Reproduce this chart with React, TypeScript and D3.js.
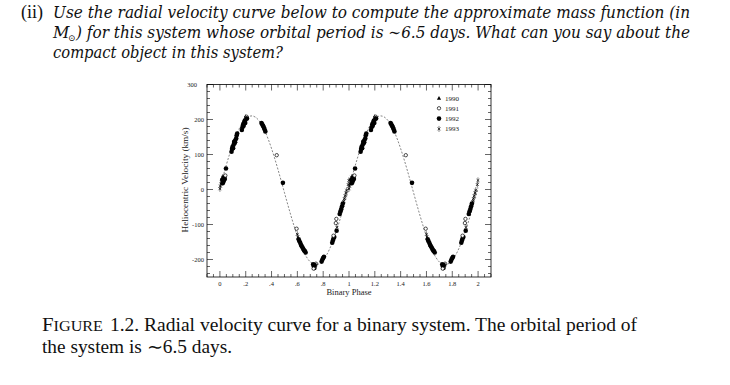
import React from "react";
import * as d3 from "d3";

// phase-folded radial velocities (phase 0-1), each is plotted again at phase+1
const obsPhase = [
  0.0, 0.004, 0.008, 0.012, 0.018, 0.022, 0.026, 0.03, 0.034, 0.038, 0.042, 0.047, 0.02,
  0.09, 0.094, 0.098, 0.102, 0.106, 0.11, 0.114, 0.118, 0.122, 0.126, 0.13, 0.134,
  0.17, 0.175, 0.18, 0.184, 0.188, 0.192, 0.196, 0.2, 0.203, 0.206, 0.21, 0.198,
  0.322, 0.328, 0.334, 0.34, 0.346, 0.352,
  0.44, 0.488,
  0.6, 0.604, 0.61, 0.616, 0.622, 0.628, 0.634, 0.64, 0.646, 0.652, 0.658, 0.664, 0.594,
  0.722, 0.728, 0.732, 0.738, 0.744, 0.734, 0.726,
  0.788, 0.794, 0.8, 0.806,
  0.87, 0.875, 0.88, 0.886, 0.88, 0.898, 0.902, 0.906, 0.904,
  0.928, 0.934, 0.94, 0.946, 0.952, 0.958, 0.964, 0.97, 0.976, 0.982, 0.994, 0.999,
];
const obsVel = [
  2, 10, 16, 22, 28, 18, 32, 24, 36, 30, 40, 60, 35,
  108, 116, 122, 118, 128, 136, 132, 140, 138, 146, 155, 160,
  170, 178, 186, 182, 192, 196, 190, 200, 204, 208, 203, 206,
  190, 186, 182, 178, 172, 166,
  98, 19,
  -128, -136, -142, -148, -152, -158, -162, -166, -170, -174, -176, -180, -112,
  -214, -220, -224, -218, -212, -216, -226,
  -206, -200, -196, -192,
  -152, -146, -140, -136, -132, -96, -84, -108, -118,
  -70, -62, -56, -48, -40, -34, -26, -18, -10, -2, 14, 26,
];
const obsYear = [
  1993, 1993, 1993, 1993, 1992, 1992, 1992, 1992, 1992, 1992, 1991, 1992, 1993,
  1992, 1992, 1992, 1992, 1992, 1992, 1992, 1992, 1990, 1992, 1992, 1992,
  1992, 1992, 1992, 1992, 1992, 1992, 1992, 1992, 1991, 1991, 1992, 1993,
  1992, 1992, 1992, 1992, 1992, 1992,
  1991, 1992,
  1993, 1993, 1992, 1992, 1992, 1992, 1992, 1992, 1992, 1992, 1992, 1992, 1991,
  1992, 1992, 1992, 1991, 1991, 1992, 1991,
  1992, 1992, 1992, 1992,
  1992, 1992, 1992, 1992, 1991, 1991, 1991, 1993, 1992,
  1992, 1992, 1992, 1992, 1992, 1993, 1993, 1993, 1993, 1993, 1993, 1993,
];

// fitted orbit, one cycle
const curvePhase = [0, 0.1, 0.2, 0.3, 0.4, 0.5, 0.6, 0.7, 0.8, 0.9, 1.0];
const curveVel = [5, 129, 202, 198, 117, -9, -133, -207, -202, -121, 5];

const legendYears = [1990, 1991, 1992, 1993];
const xMajor = [0, 0.2, 0.4, 0.6, 0.8, 1, 1.2, 1.4, 1.6, 1.8, 2];
const yMajor = [-200, -100, 0, 100, 200, 300];

const question = [
  "Use the radial velocity curve below to compute the approximate mass function (in",
  ") for this system whose orbital period is \u223c6.5 days. What can you say about the",
  "compact object in this system?",
];
const caption = [
  "1.2. Radial velocity curve for a binary system. The orbital period of",
  "the system is \u223c6.5 days.",
];

const L = 207, R = 491, T = 84.5, B = 277;
const x = d3.scaleLinear().domain([-0.1, 2.1]).range([L, R]);
const y = d3.scaleLinear().domain([-250, 300]).range([B, T]);

const fmtX = (v: number) => {
  if (Number.isInteger(v)) return String(v);
  if (v < 1) return "." + Math.round(v * 10);
  return v.toFixed(1);
};

const Marker = ({ cx, cy, year }: { cx: number; cy: number; year: number }) => {
  if (year === 1990) {
    const s = 2.1;
    return <path d={`M${cx},${cy - s}L${cx + s},${cy + s * 0.8}L${cx - s},${cy + s * 0.8}Z`} fill="#000" />;
  }
  if (year === 1991) return <circle cx={cx} cy={cy} r={1.7} fill="#fff" stroke="#000" strokeWidth={0.7} />;
  if (year === 1992) return <circle cx={cx} cy={cy} r={2.3} fill="#000" />;
  const s = 1.4;
  return (
    <g stroke="#000" strokeWidth={0.7}>
      <path d={`M${cx - s},${cy - s}L${cx + s},${cy + s}M${cx - s},${cy + s}L${cx + s},${cy - s}`} />
      <path d={`M${cx},${cy - 3}V${cy + 3}`} strokeWidth={0.5} />
    </g>
  );
};

export default function App() {
  const points = obsPhase.flatMap((p, i) => [
    { p, v: obsVel[i], yr: obsYear[i] },
    { p: p + 1, v: obsVel[i], yr: obsYear[i] },
  ]);
  const curvePts: [number, number][] = curvePhase
    .map((p, i) => [p, curveVel[i]] as [number, number])
    .concat(curvePhase.slice(1).map((p, i) => [p + 1, curveVel[i + 1]] as [number, number]));
  const line = d3
    .line<[number, number]>()
    .x((d) => x(d[0]))
    .y((d) => y(d[1]))
    .curve(d3.curveNatural);

  const xMinor = d3.range(-0.1, 2.1001, 0.05).map((v) => +v.toFixed(2));
  const yMinor = d3.range(-240, 301, 20);
  const serif = "Liberation Serif";
  const italic = "DejaVu Serif";

  return (
    <svg width={730} height={385} style={{ position: "absolute", left: 0, top: 0, background: "#fff" }}>
      {/* question text */}
      <g fontSize={16} fill="#111">
        <text x={21} y={18} fontFamily={serif} fontSize={18}>(ii)</text>
        <g fontFamily={italic} fontStyle="italic">
          <text x={53} y={18} textLength={637} lengthAdjust="spacingAndGlyphs">{question[0]}</text>
          <text x={53} y={38}>M</text>
          <text x={68} y={41} fontSize={9} fontStyle="normal">{"\u2299"}</text>
          <text x={76} y={38} textLength={614} lengthAdjust="spacingAndGlyphs">{question[1]}</text>
          <text x={53} y={58} textLength={230} lengthAdjust="spacingAndGlyphs">{question[2]}</text>
        </g>
      </g>

      {/* frame and ticks */}
      <rect x={L} y={T} width={R - L} height={B - T} fill="none" stroke="#000" strokeWidth={0.8} />
      <g stroke="#000" strokeWidth={0.6}>
        {xMinor.map((v) => {
          const len = xMajor.some((m) => Math.abs(m - v) < 1e-6) ? 6 : 3;
          return (
            <g key={"xt" + v}>
              <line x1={x(v)} x2={x(v)} y1={B} y2={B - len} />
              <line x1={x(v)} x2={x(v)} y1={T} y2={T + len} />
            </g>
          );
        })}
        {yMinor.map((v) => {
          const len = v % 100 === 0 ? 6 : 3;
          return (
            <g key={"yt" + v}>
              <line x1={L} x2={L + len} y1={y(v)} y2={y(v)} />
              <line x1={R} x2={R - len} y1={y(v)} y2={y(v)} />
            </g>
          );
        })}
      </g>
      <g fontFamily={serif} fontSize={6.5} fill="#222">
        {xMajor.map((v) => (
          <text key={"xl" + v} x={x(v)} y={B + 9} textAnchor="middle">{fmtX(v)}</text>
        ))}
        {yMajor.map((v) => (
          <text key={"yl" + v} x={v === 300 ? L - 10 : L - 3} y={y(v) + 2.2} textAnchor="end">{v}</text>
        ))}
        <text x={349} y={295} textAnchor="middle" fontSize={8.5}>Binary Phase</text>
        <text transform="translate(188,180) rotate(-90)" textAnchor="middle" fontSize={8.5} textLength={105} lengthAdjust="spacingAndGlyphs">
          Heliocentric Velocity (km/s)
        </text>
      </g>

      {/* model curve */}
      <path d={line(curvePts) ?? ""} fill="none" stroke="#333" strokeWidth={0.6} strokeDasharray="2,1.6" />

      {/* observations */}
      {points.map((d, i) => (
        <Marker key={i} cx={x(d.p)} cy={y(d.v)} year={d.yr} />
      ))}

      {/* legend */}
      <g fontFamily={serif} fontSize={7} fill="#222">
        {legendYears.map((yr, i) => (
          <g key={yr}>
            <Marker cx={439} cy={98 + i * 10.3} year={yr} />
            <text x={445} y={100.5 + i * 10.3}>{yr}</text>
          </g>
        ))}
      </g>

      {/* caption */}
      <g fontFamily={serif} fontSize={18} fill="#111">
        <text x={42} y={331} textLength={61} lengthAdjust="spacingAndGlyphs">
          <tspan>F</tspan>
          <tspan fontSize={14}>IGURE</tspan>
        </text>
        <text x={110} y={331} textLength={527} lengthAdjust="spacingAndGlyphs">{caption[0]}</text>
        <text x={42} y={353} textLength={190} lengthAdjust="spacingAndGlyphs">{caption[1]}</text>
      </g>
    </svg>
  );
}
